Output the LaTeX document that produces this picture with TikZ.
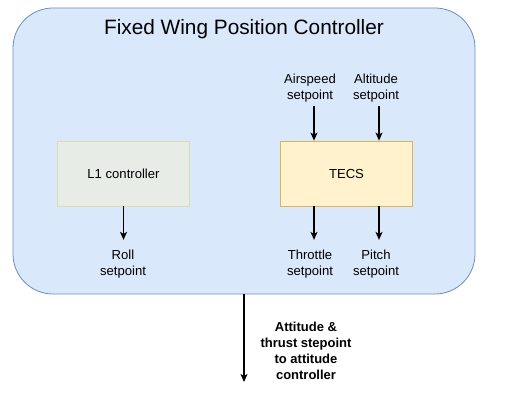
\documentclass[tikz,border=0pt]{standalone}
\usepackage{fontspec}
\setmainfont{Liberation Sans}
\usetikzlibrary{arrows.meta}
\definecolor{posfill}{HTML}{DAE8FC}
\definecolor{posline}{HTML}{6C8EBF}
\definecolor{tecsfill}{HTML}{FFF2CC}
\definecolor{tecsline}{HTML}{D6B656}
\definecolor{lonefill}{HTML}{E8ECE7}
\definecolor{loneline}{HTML}{E3D8B0}
\begin{document}
\begin{tikzpicture}[x=1pt,y=-1pt,
    ctrlbox/.style={draw, line width=0.8pt, minimum width=132pt, minimum height=65pt,
        font=\fontsize{13.1}{16}\selectfont},
    setlabel/.style={align=center, inner sep=0pt, outer sep=6pt,
        font=\fontsize{13.1}{16}\selectfont},
    arr/.style={-{Stealth[length=8pt,width=7pt,inset=2pt]}, line width=1.2pt}]
    \useasboundingbox (0,0) rectangle (505,409);
    % Container
    \node[draw=posline, fill=posfill, line width=0.8pt, rounded corners=40pt,
        minimum width=462pt, minimum height=286pt] (pos) at (244,151) {};
    \node[font=\fontsize{20.8}{24}\selectfont] (title) at (244,29) {Fixed Wing Position Controller};
    % Controllers
    \node[ctrlbox, draw=loneline, fill=lonefill] (lone) at (123.5,173.5) {L1 controller};
    \node[ctrlbox, draw=tecsline, fill=tecsfill] (tecs) at (346.5,173.5) {TECS};
    % Setpoints
    \node[setlabel, outer sep=4pt] (airspeed) at (310,88) {Airspeed\\setpoint};
    \node[setlabel, outer sep=4pt] (altitude) at (376,88) {Altitude\\setpoint};
    \node[setlabel] (roll) at (123,264) {Roll\\setpoint};
    \node[setlabel] (throttle) at (310,264) {Throttle\\setpoint};
    \node[setlabel] (pitch) at (376,264) {Pitch\\setpoint};
    \draw[arr] ([xshift=4pt]airspeed.south) -- ([xshift=4pt]airspeed.south |- tecs.north);
    \draw[arr] ([xshift=3pt]altitude.south) -- ([xshift=3pt]altitude.south |- tecs.north);
    \draw[arr] (lone.south) -- ([yshift=4pt]lone.south |- roll.north);
    \draw[arr] ([xshift=4pt]throttle.north |- tecs.south) -- ([xshift=4pt,yshift=4pt]throttle.north);
    \draw[arr] ([xshift=3pt]pitch.north |- tecs.south) -- ([xshift=3pt,yshift=4pt]pitch.north);
    % Output
    \coordinate (outend) at (244,382);
    \draw[arr] (pos.south) -- (outend);
    \node[align=center, font=\bfseries\fontsize{13}{16}\selectfont] (outtext) at (306,351)
        {Attitude \&\\thrust stepoint\\to attitude\\controller};
\end{tikzpicture}
\end{document}
